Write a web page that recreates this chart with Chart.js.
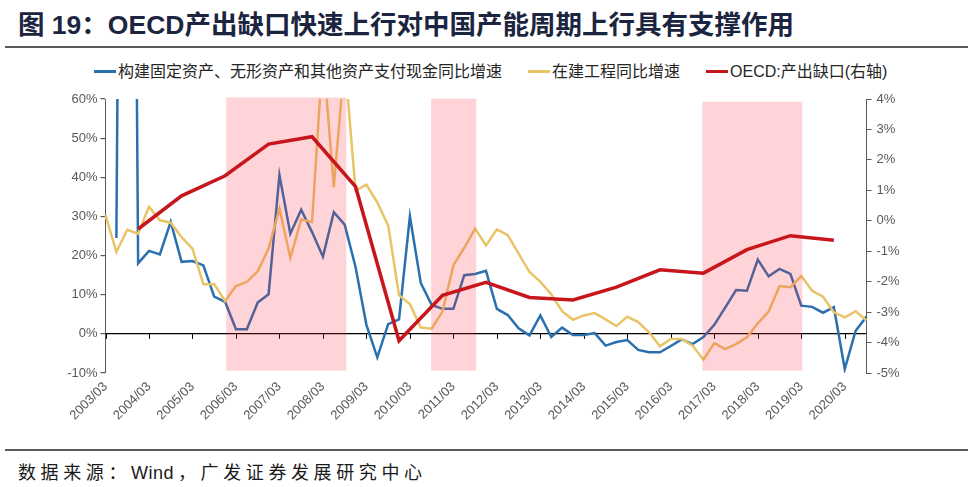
<!DOCTYPE html>
<html lang="zh-CN">
<head>
<meta charset="utf-8">
<title>OECD产出缺口与中国产能周期</title>
<script src="https://cdn.jsdelivr.net/npm/chart.js@4.4.1/dist/chart.umd.min.js"></script>
<style>
  html, body { margin: 0; padding: 0; background: #fff; }
  body {
    width: 973px; height: 487px; position: relative; overflow: hidden;
    font-family: "Liberation Sans", "Noto Sans CJK SC", sans-serif;
  }
  .title {
    position: absolute; left: 18px; top: 3px;
    font-size: 26.5px; font-weight: bold; color: #1b2540; white-space: nowrap;
  }
  .rule { position: absolute; left: 5px; width: 963px; height: 2px; background: #595959; }
  #legend {
    position: absolute; left: 94px; top: 61px; white-space: nowrap;
    font-size: 16px; color: #262626; line-height: 22px;
  }
  #legend .item { display: inline-block; margin-right: 26px; }
  #legend .swatch { display: inline-block; width: 22px; height: 3px; vertical-align: middle; margin-right: 2px; position: relative; top: -1px; }
  .chart-wrap { position: absolute; left: 0; top: 50px; width: 973px; height: 395px; }
  .source {
    position: absolute; left: 18px; top: 458px;
    font-size: 18px; letter-spacing: 4.6px; color: #1a1a1a; white-space: nowrap;
  }
  .source .latin { letter-spacing: 0.5px; margin-right: 4px; }
</style>
</head>
<body>
<div class="title">图 19：OECD产出缺口快速上行对中国产能周期上行具有支撑作用</div>
<div class="rule" style="top:46px"></div>
<div id="legend"></div>
<div class="chart-wrap"><canvas id="chart"></canvas></div>
<div class="rule" style="top:449px"></div>
<div class="source">数据来源：<span class="latin">Wind</span>，广发证券发展研究中心</div>

<script>
// ── Categories (quarterly) ──
const QUARTERS = [
  "2003/03","2003/06","2003/09","2003/12",
  "2004/03","2004/06","2004/09","2004/12",
  "2005/03","2005/06","2005/09","2005/12",
  "2006/03","2006/06","2006/09","2006/12",
  "2007/03","2007/06","2007/09","2007/12",
  "2008/03","2008/06","2008/09","2008/12",
  "2009/03","2009/06","2009/09","2009/12",
  "2010/03","2010/06","2010/09","2010/12",
  "2011/03","2011/06","2011/09","2011/12",
  "2012/03","2012/06","2012/09","2012/12",
  "2013/03","2013/06","2013/09","2013/12",
  "2014/03","2014/06","2014/09","2014/12",
  "2015/03","2015/06","2015/09","2015/12",
  "2016/03","2016/06","2016/09","2016/12",
  "2017/03","2017/06","2017/09","2017/12",
  "2018/03","2018/06","2018/09","2018/12",
  "2019/03","2019/06","2019/09","2019/12",
  "2020/03","2020/06","2020/09"
];

const SERIES_NAMES = ["构建固定资产、无形资产和其他资产支付现金同比增速", "在建工程同比增速", "OECD:产出缺口(右轴)"];

// ── 构建固定资产…支付现金同比增速 (%) ──
const capexCash = [
  null, 24.5, 400, 18.0,
  21.2, 20.3, 28.6, 18.4,
  18.6, 17.5, 9.5, 8.2,
  1.2, 1.2, 8.0, 10.1,
  40.6, 25.6, 31.7, 26.0,
  19.7, 31.1, 27.9, 17.1,
  2.3, -6.0, 2.5, 3.7,
  30.0, 13.0, 7.4, 6.4,
  6.4, 15.0, 15.3, 16.1,
  6.4, 4.8, 1.4, -0.4,
  4.7, -0.8, 1.6, -0.3,
  -0.3, 0.2, -3.0, -2.1,
  -1.6, -4.1, -4.7, -4.7,
  -3.1, -1.4, -2.6, -0.8,
  2.3, 6.7, 11.2, 11.0,
  19.0, 14.7, 16.6, 15.3,
  7.2, 6.9, 5.4, 6.8,
  -9.0, 0.8, 4.4
];

// ── 在建工程同比增速 (%) ──
const cipGrowth = [
  30.4, 20.9, 26.6, 25.6,
  32.5, 29.0, 28.4, 24.7,
  21.8, 12.7, 12.7, 8.4,
  12.2, 13.3, 16.0, 21.8,
  32.0, 19.4, 29.2, 28.6,
  72.0, 37.5, 70.0, 36.6,
  38.1, 33.6, 27.7, 9.9,
  7.6, 1.6, 1.3, 5.7,
  17.5, 22.0, 26.9, 22.6,
  26.7, 25.2, 20.5, 15.8,
  13.3, 10.1, 5.8, 3.6,
  4.7, 5.3, 3.7, 2.0,
  4.4, 3.0, 0.4, -3.2,
  -1.3, -1.3, -3.0, -6.6,
  -2.4, -3.9, -2.6, -0.9,
  2.7, 5.7, 12.2, 11.9,
  14.8, 11.0, 9.5, 5.5,
  4.2, 5.8, 3.4
];

// ── OECD 产出缺口 (%, 右轴, 年度) ──
const gapDates = [
  "2003/12","2004/12","2005/12","2006/12","2007/12","2008/12","2009/12","2010/12","2011/12",
  "2012/12","2013/12","2014/12","2015/12","2016/12","2017/12","2018/12","2019/12"
];
const oecdGap = [
  -0.27, 0.82, 1.48, 2.52, 2.76, 1.12, -3.94, -2.45, -2.02,
  -2.52, -2.60, -2.18, -1.61, -1.72, -0.95, -0.49, -0.64
];

// ── Shaded periods (in quarter-index units along the x axis) ──
const bandFrom   = [11.1, 29.95, 54.9];
const bandTo     = [22.15, 34.1, 64.1];
const bandTop    = [60.4, 60.1, 59.3];
const bandBottom = -9.4;

// ── Colors ──
const BLUE = "#2a70ae";
const GOLD = "#e8c467";
const RED  = "#c8161d";
const AXIS_GREY = "#595959";

/* ================================================================
   PLUGINS
   ================================================================ */
// pink bands painted over the two growth lines, under the OECD line
const bandsPlugin = {
  id: "bands",
  afterDatasetDraw(chart, args) {
    if (args.index !== 1) return;
    const { ctx, scales: { x, y } } = chart;
    ctx.save();
    ctx.fillStyle = "rgba(255,40,60,0.2)";
    bandFrom.forEach((f, i) => {
      const x0 = x.getPixelForValue(f);
      const x1 = x.getPixelForValue(bandTo[i]);
      const y0 = y.getPixelForValue(bandTop[i]);
      const y1 = y.getPixelForValue(bandBottom);
      ctx.fillRect(x0, y0, x1 - x0, y1 - y0);
    });
    ctx.restore();
  }
};

// small year ticks hanging from the 0% line
const zeroTicks = {
  id: "zeroTicks",
  beforeDatasetsDraw(chart) {
    const { ctx, scales: { x, y } } = chart;
    const y0 = y.getPixelForValue(0);
    ctx.save();
    ctx.strokeStyle = "#000";
    ctx.lineWidth = 1;
    QUARTERS.forEach((q, i) => {
      if (!q.endsWith("/03")) return;
      const px = Math.round(x.getPixelForValue(i)) + 0.5;
      ctx.beginPath();
      ctx.moveTo(px, y0);
      ctx.lineTo(px, y0 + 5);
      ctx.stroke();
    });
    ctx.restore();
  }
};

/* ================================================================
   CHART
   ================================================================ */
const tickFont = { family: "'Liberation Sans', Arial, sans-serif", size: 13 };

const chart = new Chart(document.getElementById("chart"), {
  type: "line",
  data: {
    labels: QUARTERS,
    datasets: [
      {
        label: SERIES_NAMES[0], data: capexCash, yAxisID: "y",
        borderColor: BLUE, backgroundColor: BLUE, borderWidth: 2.5,
        pointRadius: 0, tension: 0, order: 3
      },
      {
        label: SERIES_NAMES[1], data: cipGrowth, yAxisID: "y",
        borderColor: GOLD, backgroundColor: GOLD, borderWidth: 2.5,
        pointRadius: 0, tension: 0, order: 2
      },
      {
        label: SERIES_NAMES[2], data: gapDates.map((d, i) => ({ x: d, y: oecdGap[i] })), yAxisID: "y1",
        borderColor: RED, backgroundColor: RED, borderWidth: 3.5,
        pointRadius: 0, tension: 0, order: 1
      }
    ]
  },
  options: {
    responsive: true,
    maintainAspectRatio: false,
    animation: false,
    layout: { padding: { top: 49, left: 0, right: 0, bottom: 0 } },
    plugins: { legend: { display: false }, tooltip: { enabled: false } },
    scales: {
      x: {
        type: "category",
        offset: false,
        grid: { display: false, drawTicks: false },
        border: { display: false },
        ticks: {
          autoSkip: false, maxRotation: 45, minRotation: 45, padding: 6,
          color: AXIS_GREY, font: tickFont,
          callback(v) {
            const l = this.getLabelForValue(v);
            return l.endsWith("/03") ? l : null;
          }
        },
        afterFit(s) { s.height = 72; }
      },
      y: {
        position: "left", min: -10, max: 60,
        grid: {
          drawOnChartArea: true, tickLength: 5, tickColor: AXIS_GREY,
          color: c => (c.tick && c.tick.value === 0 ? "#000" : "rgba(0,0,0,0)"),
          lineWidth: 1.2
        },
        border: { display: true, color: AXIS_GREY, width: 1 },
        ticks: { stepSize: 10, padding: 3, color: AXIS_GREY, font: tickFont, callback: v => v + "%" },
        afterFit(s) { s.width = 105.5; }
      },
      y1: {
        position: "right", min: -5, max: 4,
        grid: { drawOnChartArea: false, tickLength: 5, tickColor: AXIS_GREY },
        border: { display: true, color: AXIS_GREY, width: 1 },
        ticks: { stepSize: 1, padding: 5, color: AXIS_GREY, font: tickFont, callback: v => v + "%" },
        afterFit(s) { s.width = 106.5; }
      }
    }
  },
  plugins: [bandsPlugin, zeroTicks]
});

// ── HTML legend built from the datasets ──
const legendEl = document.getElementById("legend");
chart.data.datasets.forEach(ds => {
  const item = document.createElement("span");
  item.className = "item";
  item.innerHTML = `<span class="swatch" style="background:${ds.borderColor}"></span>${ds.label}`;
  legendEl.appendChild(item);
});
</script>
</body>
</html>
